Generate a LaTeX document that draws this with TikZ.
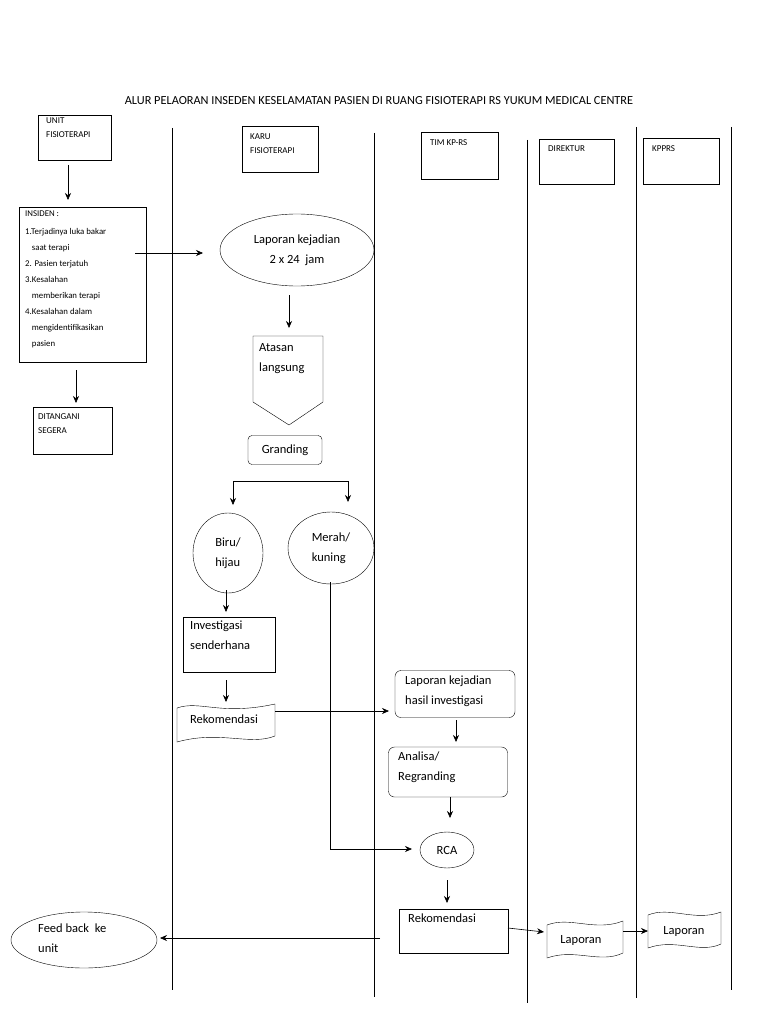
\documentclass[tikz,border=0pt]{standalone}
\usepackage{fontspec}
\setmainfont{Carlito}
\usetikzlibrary{shapes.geometric,arrows.meta}
\begin{document}
\begin{tikzpicture}[x=1pt,y=-1pt,
  every node/.style={inner sep=0pt},
  sm/.style={font=\fontsize{9}{14}\selectfont,align=left},
  md/.style={font=\fontsize{12.5}{20}\selectfont,align=left},
  arr/.style={-{Stealth[length=7pt,width=6pt]},semithick},
  ln/.style={thin}]
\useasboundingbox (0,0) rectangle (768,1024);
\node[font=\fontsize{12.3}{14}\selectfont] (title) at (379,101) {ALUR PELAORAN INSEDEN KESELAMATAN PASIEN DI RUANG FISIOTERAPI RS YUKUM MEDICAL CENTRE};
% lanes
\draw[ln] (172,128) -- (172,990);
\draw[ln] (374,133) -- (374,997);
\draw[ln] (527,140) -- (527,1003);
\draw[ln] (636,127) -- (636,998);
\draw[ln] (731,127) -- (731,990);
% headers
\draw[ln] (38,115) rectangle (111,160);
\node[sm,anchor=north west] (unit) at (46,118) {UNIT\\FISIOTERAPI};
\draw[ln] (242,126) rectangle (318,172);
\node[sm,anchor=north west] (karu) at (250,134) {KARU\\FISIOTERAPI};
\draw[ln] (421,132) rectangle (498,179);
\node[sm,anchor=north west] (tim) at (430,139) {TIM KP-RS};
\draw[ln] (539,139) rectangle (614,184);
\node[sm,anchor=north west] (dir) at (548,146) {DIREKTUR};
\draw[ln] (643,138) rectangle (719,184);
\node[sm,anchor=north west] (kpp) at (652,145) {KPPRS};
\coordinate (u1) at (68,165); \coordinate (u2) at (68,200);
\draw[arr] (u1) -- (u2);
% insiden
\draw[ln] (19,207) rectangle (146,362);
\node[font=\fontsize{8.8}{16}\selectfont,align=left,anchor=north west] (ins) at (25,211) {INSIDEN :\\[2pt]1.Terjadinya luka bakar\\\phantom{1.}saat terapi\\2. Pasien terjatuh\\3.Kesalahan\\\phantom{3.}memberikan terapi\\4.Kesalahan dalam\\\phantom{4.}mengidentifikasikan\\\phantom{4.}pasien};
\coordinate (i1) at (135,253); \coordinate (i2) at (203,253);
\draw[arr] (i1) -- (i2);
\node[draw,ellipse,minimum width=154,minimum height=72,md,align=center] (lap) at (297,250) {Laporan kejadian\\2 x 24\ \ jam};
\coordinate (l1) at (289,295); \coordinate (l2) at (289,328);
\draw[arr] (l1) -- (l2);
\draw[ln] (253,336) -- (323,336) -- (323,402) -- (289,425) -- (253,402) -- cycle;
\node[md,anchor=north west] (ata) at (259,343) {Atasan\\langsung};
\coordinate (d1) at (76,370); \coordinate (d2) at (76,403);
\draw[arr] (d1) -- (d2);
\draw[ln] (33,407) rectangle (112,454);
\node[sm,anchor=north west] (dit) at (38,413) {DITANGANI\\SEGERA};
\node[draw,rounded corners=4pt,minimum width=74,minimum height=29,md] (gra) at (285,450) {Granding};
\coordinate (g1) at (233,481); \coordinate (g2) at (348,481);
\coordinate (g3) at (233,505); \coordinate (g4) at (348,502);
\draw[ln] (g1) -- (g2);
\draw[arr] (g1) -- (g3);
\draw[arr] (g2) -- (g4);
\node[draw,ellipse,minimum width=70,minimum height=80,md] (biru) at (228,553) {Biru/\\hijau};
\node[draw,ellipse,minimum width=86,minimum height=72,md] (mer) at (331,548) {Merah/\\kuning};
\coordinate (b1) at (226,590); \coordinate (b2) at (226,612);
\draw[arr] (b1) -- (b2);
\draw[ln] (183,617) rectangle (275,672);
\node[md,anchor=north west] (inv) at (190,621) {Investigasi\\senderhana};
\coordinate (v1) at (226,680); \coordinate (v2) at (226,702);
\draw[arr] (v1) -- (v2);
\draw[ln] (177,708) .. controls (200,700) and (220,716) .. (275,704) -- (275,736) .. controls (250,746) and (220,730) .. (177,742) -- cycle;
\node[md] (rek1) at (224,719) {Rekomendasi};
\coordinate (r1) at (275,711); \coordinate (r2) at (389,711);
\draw[arr] (r1) -- (r2);
\node[draw,rounded corners=6pt,minimum width=120,minimum height=47] (lkh) at (455,694) {};
\node[md,anchor=north west] at (405,676) {Laporan kejadian\\hasil investigasi};
\coordinate (h1) at (456,720); \coordinate (h2) at (456,742);
\draw[arr] (h1) -- (h2);
\node[draw,rounded corners=6pt,minimum width=119,minimum height=50] (ana) at (448,772) {};
\node[md,anchor=north west] at (398,752) {Analisa/\\Regranding};
\coordinate (a1) at (450,797); \coordinate (a2) at (450,818);
\draw[arr] (a1) -- (a2);
\coordinate (m1) at (330,582); \coordinate (m2) at (330,849); \coordinate (m3) at (412,849);
\draw[arr] (m1) -- (m2) -- (m3);
\node[draw,ellipse,minimum width=54,minimum height=36,md] (rca) at (447,850) {RCA};
\coordinate (c1) at (447,880); \coordinate (c2) at (447,903);
\draw[arr] (c1) -- (c2);
\draw[ln] (399,909) rectangle (508,953);
\node[md,anchor=north west] (rek2) at (408,914) {Rekomendasi};
\coordinate (k1) at (508,928); \coordinate (k2) at (544,932);
\draw[arr] (k1) -- (k2);
\draw[ln] (547,925) .. controls (570,916) and (595,932) .. (623,921) -- (623,953) .. controls (600,964) and (575,948) .. (547,958) -- cycle;
\node[md] (lap1) at (581,940) {Laporan};
\coordinate (p1) at (623,931); \coordinate (p2) at (648,931);
\draw[arr] (p1) -- (p2);
\draw[ln] (648,915) .. controls (670,906) and (695,922) .. (721,912) -- (721,944) .. controls (700,954) and (675,938) .. (648,948) -- cycle;
\node[md] (lap2) at (684,931) {Laporan};
\node[draw,ellipse,minimum width=146,minimum height=56] (fb) at (84,940) {};
\node[md,anchor=north west] at (38,924) {Feed back\ \ ke\\unit};
\coordinate (f1) at (380,938); \coordinate (f2) at (160,938);
\draw[arr] (f1) -- (f2);
\end{tikzpicture}
\end{document}
